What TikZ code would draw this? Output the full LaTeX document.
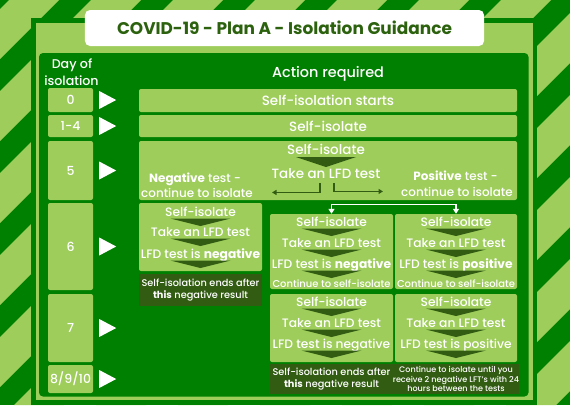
\documentclass[tikz,border=0pt]{standalone}
\usepackage{fontspec}
\setmainfont{Poppins}[UprightFont={* Medium}, BoldFont={* Bold}]
\usepackage{xcolor}
\usepackage{tikz}
\usetikzlibrary{arrows.meta,positioning,calc}

\definecolor{stripedark}{RGB}{0,128,0}
\definecolor{leaf}{RGB}{158,205,92}
\definecolor{moss}{RGB}{50,92,18}
\definecolor{titlegreen}{RGB}{44,98,14}

\begin{document}
\begin{tikzpicture}[x=1bp, y=-1bp,
    daybox/.style={fill=leaf, rounded corners=2bp, minimum width=45bp, inner sep=0pt, text=white, font=\fontsize{12.5}{14}\selectfont},
    actbox/.style={fill=leaf, rounded corners=2bp, inner sep=0pt, text=white, font=\fontsize{13.5}{15}\selectfont},
    endbox/.style={fill=moss, inner sep=0pt, text=white, align=center, font=\fontsize{9.8}{12.5}\selectfont},
    txtline/.style={text=white, anchor=base, inner sep=0pt, font=\fontsize{12.3}{14}\selectfont},
    bigline/.style={txtline, font=\fontsize{13.5}{15}\selectfont},
    midline/.style={txtline, font=\fontsize{12}{14}\selectfont},
    note/.style={txtline, font=\fontsize{10}{12}\selectfont},
    brk/.style={-{Triangle[length=4.5bp, width=5bp]}, moss, line width=1.3bp},
    fork/.style={{Triangle[length=5bp, width=6bp]}-{Triangle[length=5bp, width=6bp]}, white, line width=1.3bp}
]
    % striped background and frame
    \begin{scope}
        \clip (0,0) rectangle (570,405);
        \fill[stripedark] (0,0) rectangle (570,405);
        \foreach \c in {9,91,...,1000}
            \fill[leaf] (\c,0) -- (\c+50,0) -- (\c+50-405,405) -- (\c-405,405) -- cycle;
    \end{scope}
    \fill[stripedark] (31,18) rectangle (537,405);
    \fill[leaf] (35.5,22.5) rectangle (532.5,400);
    \fill[stripedark, rounded corners=4bp] (39,53) rectangle (528.5,396.5);

    \node[fill=white, rounded corners=5bp, minimum width=399bp, minimum height=36bp, text=titlegreen,
          font=\fontsize{17}{19}\bfseries] (title) at (284.5,28) {COVID-19 - Plan A - Isolation Guidance};

    \node[txtline, font=\fontsize{12.7}{14}\selectfont] (hday1) at (72,68) {Day of};
    \node[txtline, font=\fontsize{12.7}{14}\selectfont] (hday2) at (71.5,85) {isolation};
    \node[txtline, font=\fontsize{14.5}{16}\selectfont] (hact) at (328,77) {Action required};

    \node[daybox, minimum height=24bp] (d0) at (70.5,100) {0};
    \node[daybox, minimum height=22bp] (d14) at (70.5,126) {1-4};
    \node[daybox, minimum height=59bp] (d5) at (70.5,170.5) {5};
    \node[daybox, minimum height=87bp] (d6) at (70.5,246.5) {6};
    \node[daybox, minimum height=68bp] (d7) at (70.5,328) {7};
    \node[daybox, minimum height=28bp] (d8) at (70.5,379) {8/9/10};
    \foreach \d in {d0,d14,d5,d6,d7,d8}
        \fill[white] ($(\d.east)+(6,-9)$) -- ++(17,9) -- ++(-17,9) -- cycle;

    \node[actbox, minimum width=378bp, minimum height=23bp] (a0) at (328,100.5) {Self-isolation starts};
    \node[actbox, minimum width=378bp, minimum height=22bp] (a14) at (328,126) {Self-isolate};
    \node[actbox, minimum width=378bp, minimum height=59bp] (a5) at (328,170.5) {};
    \node[actbox, minimum width=123bp, minimum height=68bp] (b6) at (200.5,237) {};
    \node[actbox, minimum width=123bp, minimum height=75bp] (c6n) at (331.5,251.5) {};
    \node[actbox, minimum width=122bp, minimum height=75bp] (c6p) at (456,251.5) {};
    \node[actbox, minimum width=123bp, minimum height=68bp] (c7n) at (331.5,328) {};
    \node[actbox, minimum width=122bp, minimum height=68bp] (c7p) at (456,328) {};

    \node[endbox, minimum width=123bp, minimum height=32bp] (e6) at (200.5,290) {Self-isolation ends after\\\textbf{this} negative result};
    \node[endbox, minimum width=123bp, minimum height=30bp] (e7n) at (331.5,379) {Self-isolation ends after\\\textbf{this} negative result};
    \node[endbox, minimum width=122bp, minimum height=30bp, font=\fontsize{8.1}{9.5}\selectfont] (e7p) at (456,379)
        {Continue to isolate until you\\receive 2 negative LFT's with 24\\hours between the tests};

    \node[bigline] (s5) at (326,154) {Self-isolate};
    \node[bigline] (t5) at (326,178) {Take an LFD test};
    \node[midline] (n5a) at (195,182) {\textbf{Negative} test -};
    \node[midline] (n5b) at (197,197) {continue to isolate};
    \node[midline] (p5a) at (455.5,180) {\textbf{Positive} test -};
    \node[midline] (p5b) at (457,196) {continue to isolate};
    \fill[moss] ($(s5.base)+(-30,3)$) -- ++(60,0) -- ++(-30,10) -- cycle;
    \draw[brk, shorten >=19bp] ($(t5.base)+(-6,5)$) |- (n5b.east);
    \draw[brk, shorten >=18bp] ($(t5.base)+(8,5)$) |- (p5b.west);

    \node[txtline] (s6) at (200.5,216) {Self-isolate};
    \node[txtline] (t6) at (200.5,236) {Take an LFD test};
    \node[txtline] (l6) at (200.5,258) {LFD test is \textbf{negative}};

    \node[txtline] (s6n) at (331.5,226) {Self-isolate};
    \node[txtline] (t6n) at (331.5,247) {Take an LFD test};
    \node[txtline] (l6n) at (331.5,268) {LFD test is \textbf{negative}};
    \node[note] (k6n) at (331.5,287) {Continue to self-isolate};

    \node[txtline] (s6p) at (456,226) {Self-isolate};
    \node[txtline] (t6p) at (456,247) {Take an LFD test};
    \node[txtline] (l6p) at (456,268) {LFD test is \textbf{positive}};
    \node[note] (k6p) at (456,287) {Continue to self-isolate};

    \node[txtline] (s7n) at (331.5,306) {Self-isolate};
    \node[txtline] (t7n) at (331.5,327) {Take an LFD test};
    \node[txtline] (l7n) at (331.5,348) {LFD test is negative};

    \node[txtline] (s7p) at (456,306) {Self-isolate};
    \node[txtline] (t7p) at (456,327) {Take an LFD test};
    \node[txtline] (l7p) at (456,348) {LFD test is positive};

    \foreach \n in {s6,t6,l6,s6n,t6n,l6n,s6p,t6p,l6p,s7n,t7n,l7n,s7p,t7p,l7p}
        \fill[moss] ($(\n.base)+(-30,2.5)$) -- ++(60,0) -- ++(-30,7.5) -- cycle;

    \draw[fork] (c6n.north) -- ++(0,-9.5) -| (c6p.north);
\end{tikzpicture}
\end{document}
